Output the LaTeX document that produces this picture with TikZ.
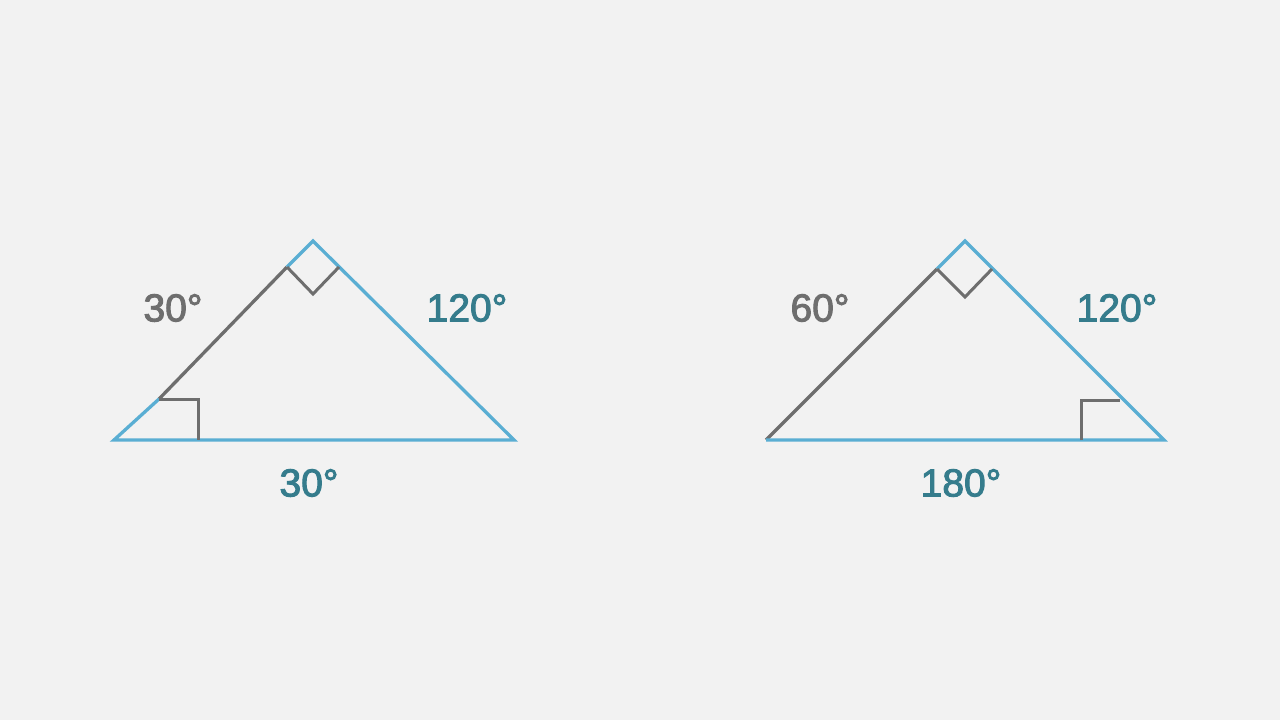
\documentclass[tikz,border=0pt]{standalone}
\usepackage{fontspec}
\setmainfont{Liberation Sans}[FakeBold=2.5]
\definecolor{bg}{HTML}{F2F2F2}
\definecolor{sideblue}{HTML}{5AAED3}
\definecolor{markgray}{HTML}{6E6E6E}
\definecolor{labteal}{HTML}{357C8C}
\definecolor{labgray}{HTML}{6E6E6E}
\begin{document}
\begin{tikzpicture}[x=1pt,y=-1pt,
  blueside/.style={draw=sideblue,line width=3.3pt,line join=miter},
  grayside/.style={draw=markgray,line width=3.3pt},
  markline/.style={draw=markgray,line width=3pt,line join=miter},
  lab/.style={font=\fontsize{39}{41}\selectfont,inner sep=0pt,anchor=center},
  tealab/.style={lab,text=labteal},
  graylab/.style={lab,text=labgray}]
\fill[bg] (0,0) rectangle (1280,720);
\useasboundingbox (0,0) rectangle (1280,720);
% left triangle
\coordinate (LA) at (114,440);
\coordinate (LB) at (313,241);
\coordinate (LC) at (514,440);
\coordinate (LP) at (159,399);
\coordinate (LQ) at (287,267);
\draw[grayside] (LP) -- (LQ);
\draw[blueside] (LP) -- (LA) -- (LC) -- (LB) -- (LQ);
\draw[markline] (LQ) -- (313,294) -- (339,267);
\draw[markline] (LP) -- (198,399) -- (198,440);
\node[graylab] (l1) at (173,308) {30°};
\node[tealab] (l2) at (467,308) {120°};
\node[tealab] (l3) at (309,483) {30°};
% right triangle
\coordinate (RA) at (766,440);
\coordinate (RB) at (965,241);
\coordinate (RC) at (1164,440);
\coordinate (RQ) at (937,269);
\draw[grayside] (RA) -- (RQ);
\draw[blueside] (RQ) -- (RB) -- (RC) -- (RA);
\draw[markline] (RQ) -- (965,297) -- (992,269);
\draw[markline] (1081,440) -- (1081,400) -- (1120,400);
\node[graylab] (r1) at (820,308) {60°};
\node[tealab] (r2) at (1117,308) {120°};
\node[tealab] (r3) at (961,483) {180°};
\end{tikzpicture}
\end{document}
